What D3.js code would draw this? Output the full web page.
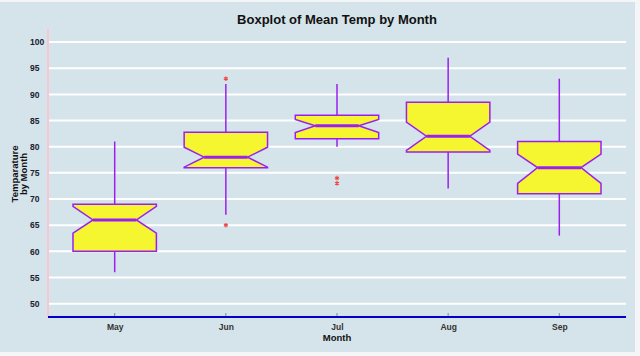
<!DOCTYPE html>
<html><head><meta charset="utf-8">
<script src="https://cdn.jsdelivr.net/npm/d3@7"></script>
<style>body{margin:0;background:#f3f5f7;}svg{display:block;}</style>
</head><body><svg id="c" width="640" height="356"></svg>
<script>
const months = ["May","Jun","Jul","Aug","Sep"];
const q1 = [60, 76, 81.5, 79, 71];
const median = [66, 78, 84, 82, 76];
const q3 = [69, 82.75, 86, 88.5, 81];
const whiskerLow = [56, 67, 80, 72, 63];
const whiskerHigh = [81, 92, 92, 97, 93];
const notchLow = [63.5, 76.1, 82.7, 79.3, 73];
const notchHigh = [68.6, 79.9, 85.2, 84.7, 78.6];
const outlierMonth = ["Jun","Jun","Jul","Jul"];
const outlierValue = [93, 65, 74, 73];
const yTicks = [50,55,60,65,70,75,80,85,90,95,100];

(function(){
const svg = d3.select("#c");
const FONT = "Liberation Sans, Arial, sans-serif";
const pLeft=48,pRight=626,pTop=29,pBottom=317;
svg.append("rect").attr("x",0).attr("y",2).attr("width",635).attr("height",350).attr("fill","#d5e3ea");

const x = d3.scalePoint().domain(months).range([pLeft,pRight]).padding(0.6);
const y = d3.scaleLinear().domain([47.45,102.5]).range([pBottom,pTop]);

svg.append("g").selectAll("line").data(yTicks).join("line")
 .attr("x1",pLeft).attr("x2",pRight).attr("y1",d=>y(d)).attr("y2",d=>y(d))
 .attr("stroke","#ffffff").attr("stroke-width",2);

const ya = svg.append("g").attr("transform",`translate(${pLeft},0)`)
 .call(d3.axisLeft(y).tickValues(yTicks).tickSize(0).tickPadding(8));
ya.select(".domain").remove();
ya.selectAll("text").attr("text-anchor","start").attr("x",-18)
 .attr("font-family",FONT).attr("font-size",8.5).attr("font-weight","bold").attr("fill","#1a2030");

const xa = svg.append("g").attr("transform",`translate(0,${pBottom})`)
 .call(d3.axisBottom(x).tickSize(0).tickPadding(7));
xa.select(".domain").remove();
xa.selectAll("text").attr("font-family",FONT).attr("font-size",8.5).attr("font-weight","bold").attr("fill","#333");
svg.append("g").selectAll("line").data(months).join("line")
 .attr("x1",d=>x(d)).attr("x2",d=>x(d)).attr("y1",pBottom-4).attr("y2",pBottom)
 .attr("stroke","#888").attr("stroke-width",1);

svg.append("line").attr("x1",pLeft).attr("x2",pLeft).attr("y1",pTop).attr("y2",pBottom).attr("stroke","#f7c6d0").attr("stroke-width",2);
svg.append("line").attr("x1",pLeft).attr("x2",pRight).attr("y1",pBottom).attr("y2",pBottom).attr("stroke","#0000cc").attr("stroke-width",2);

const hw = 41.7, nw = 21.7;
const stroke = "#9b1ff2";
months.forEach((m,i)=>{
  const cx = x(m);
  svg.append("line").attr("x1",cx).attr("x2",cx).attr("y1",y(q3[i])).attr("y2",y(whiskerHigh[i])).attr("stroke",stroke).attr("stroke-width",1.5);
  svg.append("line").attr("x1",cx).attr("x2",cx).attr("y1",y(q1[i])).attr("y2",y(whiskerLow[i])).attr("stroke",stroke).attr("stroke-width",1.5);
  const nh = Math.min(notchHigh[i], q3[i]), nl = Math.max(notchLow[i], q1[i]);
  const pts = [
    [cx-hw,y(q3[i])],[cx+hw,y(q3[i])],[cx+hw,y(nh)],[cx+nw,y(median[i])],
    [cx+hw,y(nl)],[cx+hw,y(q1[i])],[cx-hw,y(q1[i])],[cx-hw,y(nl)],
    [cx-nw,y(median[i])],[cx-hw,y(nh)]
  ];
  svg.append("path").attr("d",d3.line()(pts)+"Z").attr("fill","#f5f530").attr("stroke",stroke).attr("stroke-width",1.5);
  svg.append("line").attr("x1",cx-nw).attr("x2",cx+nw).attr("y1",y(median[i])).attr("y2",y(median[i])).attr("stroke",stroke).attr("stroke-width",3);
});

const star = d3.symbol().type(d3.symbolAsterisk).size(14);
outlierValue.forEach((v,i)=>{
  svg.append("path").attr("d",star()).attr("transform",`translate(${x(outlierMonth[i])},${y(v)})`)
   .attr("stroke","#f04848").attr("stroke-width",1.2).attr("fill","none");
});

svg.append("text").attr("x",(pLeft+pRight)/2).attr("y",24).attr("text-anchor","middle")
 .attr("font-family",FONT).attr("font-size",13).attr("font-weight","bold").attr("fill","#111").text("Boxplot of Mean Temp by Month");
svg.append("text").attr("x",(pLeft+pRight)/2).attr("y",341).attr("text-anchor","middle")
 .attr("font-family",FONT).attr("font-size",9.5).attr("font-weight","bold").attr("fill","#111").text("Month");
const yl = svg.append("text").attr("transform","translate(0,174) rotate(-90)").attr("text-anchor","middle")
 .attr("font-family",FONT).attr("font-size",9.5).attr("font-weight","bold").attr("fill","#111");
yl.append("tspan").attr("x",0).attr("y",18).text("Temparature");
yl.append("tspan").attr("x",0).attr("y",27).text("by Month");
})();
</script></body></html>
